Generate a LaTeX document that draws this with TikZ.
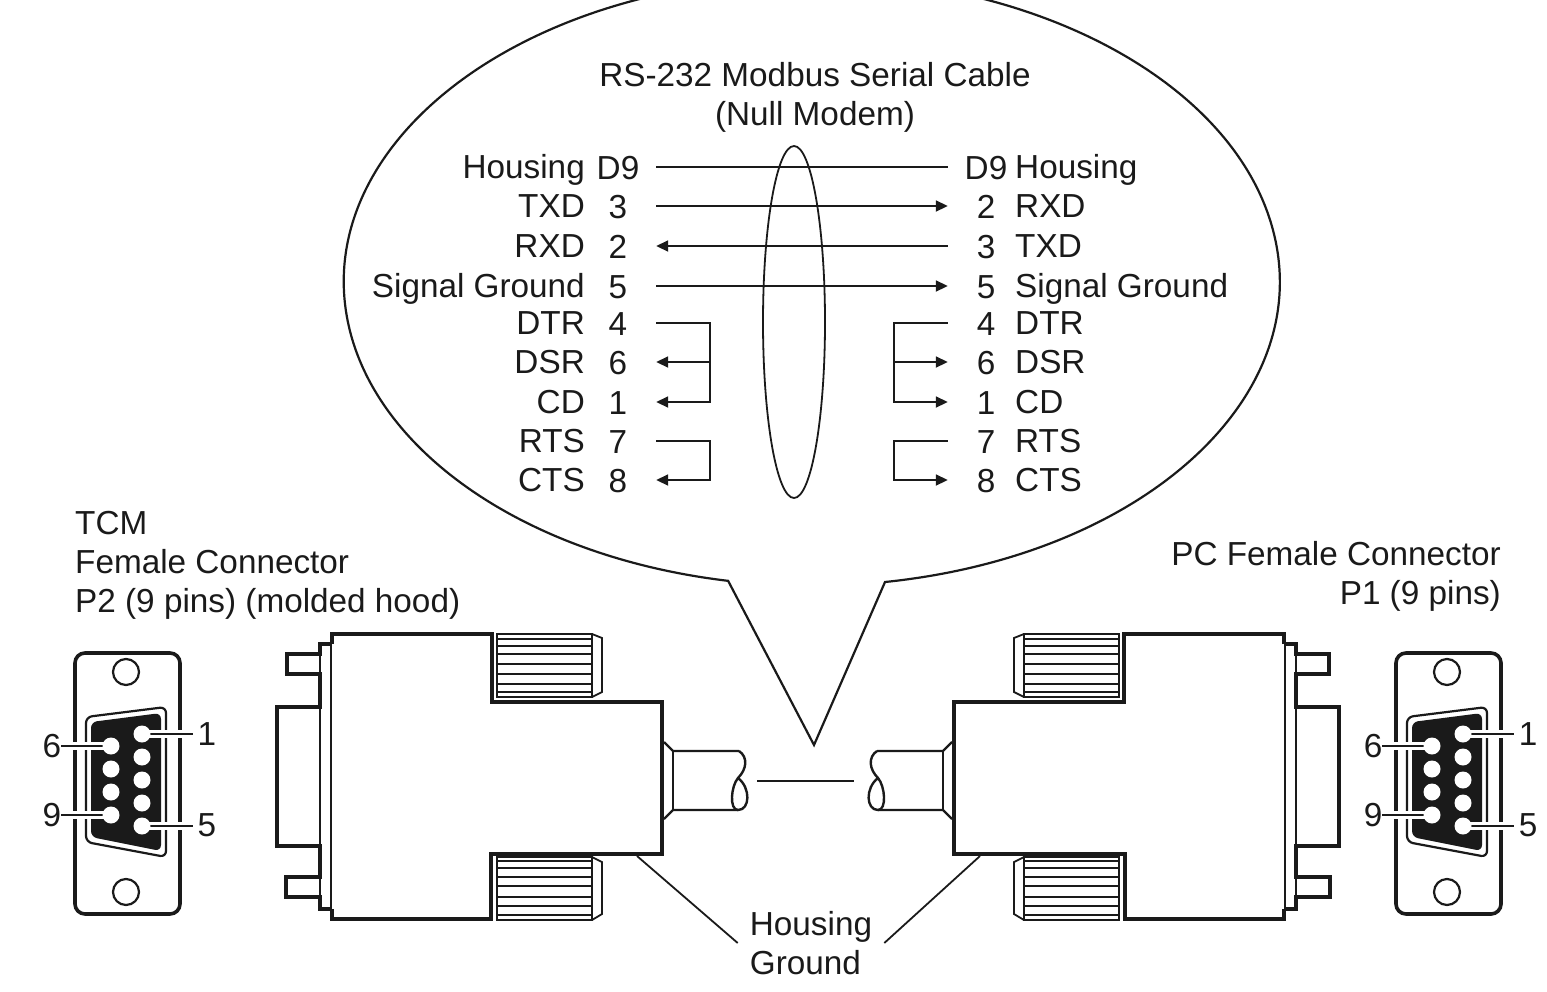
\documentclass[tikz,border=0pt]{standalone}
\usepackage{fontspec}
\setmainfont{Liberation Sans}
\usetikzlibrary{arrows.meta}
\definecolor{ink}{HTML}{1A1A1A}
\tikzset{
  txt/.style={font=\fontsize{33.3}{39}\selectfont,text=ink,inner sep=0pt},
  thinline/.style={draw=ink,line width=1.8pt},
  hoodline/.style={draw=ink,line width=4pt,line join=miter},
  wire/.style={draw=ink,line width=1.8pt},
  wirearrow/.style={wire,-{Triangle[length=12pt,width=11pt]}},
  pinno/.style={txt,minimum width=76pt,text height=24pt,text depth=0pt},
  lead/.style={draw=white,double=ink,line width=3pt,double distance=2.3pt},
  pinhole/.style={circle,fill=white,inner sep=0pt,minimum size=17pt},
  digit/.style={txt,text height=24pt,text depth=0pt},
}

% one hood with its thumb screws and a cut cable
\newcommand{\knurl}[5]{
  \draw[thinline] (497,#1) rectangle (592,#2);
  \draw[thinline] (592,#1) -- (602,#3) -- (602,#4) -- (592,#2);
  \foreach \k in {#5} \draw[thinline] (497,\k) -- (592,\k);
}
\newcommand{\hood}{
  \draw[hoodline] (332,644) -- (332,634) -- (492,634) -- (492,702) -- (662,702) -- (662,854)
    -- (491,854) -- (491,919) -- (332,919) -- (332,909);
  \draw[hoodline] (332,644) -- (320,644) -- (320,654) -- (287,654) -- (287,674) -- (320,674)
    -- (320,707) -- (277,707) -- (277,846) -- (320,846) -- (320,877) -- (286,877)
    -- (286,897) -- (320,897) -- (320,909) -- (332,909);
  \draw[thinline] (331,644) -- (331,909);
  \draw[thinline] (320,654) -- (320,674);
  \draw[thinline] (320,707) -- (320,846);
  \draw[thinline] (320,877) -- (320,897);
  \knurl{634}{697}{638}{692}{639,646,654,664,674,684,692}
  \knurl{857}{920}{862}{914}{861,868,877,886,897,906,915}
  \draw[thinline,line width=2.4pt] (664,742) -- (673,751) -- (739,751);
  \draw[thinline,line width=2.4pt] (664,819) -- (673,810) -- (738,810);
  \draw[thinline,line width=2.4pt] (673,751) -- (673,810);
  \draw[thinline,line width=2.4pt] (739,751) .. controls (748,757) and (747,769) .. (738,778)
    .. controls (731,786) and (729,810) .. (738,810)
    .. controls (750,810) and (751,788) .. (738,778);
}
% one 9 pin face, #1 is its shift and #2 the start of its names
\newcommand{\dsub}[2]{
  \begin{scope}[xshift=#1pt]
    \draw[ink,line width=3.6pt,rounded corners=10pt] (75,653) rectangle (180,914);
    \draw[thinline,line width=2.2pt] (126,672) circle (13);
    \draw[thinline,line width=2.2pt] (126,892) circle (13);
    \draw[thinline,line width=2.2pt,rounded corners=6pt] (86,717) -- (166,707) -- (166,857) -- (86,842) -- cycle;
    \fill[ink,rounded corners=6pt] (91,722) -- (161,713) -- (161,851) -- (91,837) -- cycle;
    \node[digit] (#2n6) at (52,745) {6};
    \node[digit] (#2n9) at (52,814) {9};
    \node[digit,inner xsep=5pt] (#2n1) at (207,733) {1};
    \node[digit,inner xsep=5pt] (#2n5) at (207,824) {5};
    \coordinate (#2p6) at (111,746);
    \coordinate (#2p9) at (111,815);
    \coordinate (#2p1) at (142,734);
    \coordinate (#2p5) at (142,826);
    \foreach \n in {1,5,6,9} \draw[lead] (#2p\n) -- (#2p\n -| #2n\n.\ifnum\n<6 west\else east\fi);
    \foreach \x/\y in {142/734,142/757,142/780,142/803,142/826,111/746,111/769,111/792,111/815}
      \node[pinhole] at (\x,\y) {};
  \end{scope}
}

\begin{document}
\begin{tikzpicture}[x=1pt,y=-1pt]
\useasboundingbox (0,0) rectangle (1547,991);
\clip (0,0) rectangle (1547,991);

% balloon
\draw[thinline,line width=2.2pt,line join=miter] (885,582) arc[start angle=81,end angle=-259.7,x radius=468,y radius=304] -- (814,745) -- cycle;
\node[txt,align=center] (title) at (815,97) {RS-232 Modbus Serial Cable\\(Null Modem)};

% rows of the table
\foreach \i/\y/\a/\b/\c/\d in {
  0/167/Housing/D9/D9/Housing,
  1/206/TXD/3/2/RXD,
  2/246/RXD/2/3/TXD,
  3/286/Signal Ground/5/5/Signal Ground,
  4/323/DTR/4/4/DTR,
  5/362/DSR/6/6/DSR,
  6/402/CD/1/1/CD,
  7/441/RTS/7/7/RTS,
  8/480/CTS/8/8/CTS}{
  \node[pinno] (pl\i) at (618,\y) {\b};
  \node[pinno] (pr\i) at (986,\y) {\c};
  \node[txt,anchor=base east] (nl\i) at (585,\y+11) {\a};
  \node[txt,anchor=base west] (nr\i) at (1015,\y+11) {\d};
}

\draw[wire] (pl0.east) -- (pr0.west);
\draw[wirearrow] (pl1.east) -- (pr1.west);
\draw[wirearrow] (pr2.west) -- (pl2.east);
\draw[wirearrow] (pl3.east) -- (pr3.west);

\coordinate (bl) at (710,0);
\coordinate (br) at (894,0);
\draw[wirearrow] (pl4.east) -- (pl4.east -| bl) -- (pl6.east -| bl) -- (pl6.east);
\draw[wirearrow] (pl5.east -| bl) -- (pl5.east);
\draw[wirearrow] (pl7.east) -- (pl7.east -| bl) -- (pl8.east -| bl) -- (pl8.east);
\draw[wirearrow] (pr4.west) -- (pr4.west -| br) -- (pr6.west -| br) -- (pr6.west);
\draw[wirearrow] (pr5.west -| br) -- (pr5.west);
\draw[wirearrow] (pr7.west) -- (pr7.west -| br) -- (pr8.west -| br) -- (pr8.west);

\draw[thinline] (794,322) ellipse (31 and 176);

% connector names
\node[txt,align=left,anchor=west] (tcm) at (75,565) {TCM\\Female Connector\\P2 (9 pins) (molded hood)};
\node[txt,align=right,anchor=east] (pc) at (1501,576) {PC Female Connector\\P1 (9 pins)};

% faces
\dsub{0}{a}
\dsub{1321}{b}

% hoods
\hood
\begin{scope}[xshift=1616pt,xscale=-1]
\hood
\end{scope}

% cable break and ground
\coordinate (cutl) at (757,781);
\coordinate (cutr) at (854,781);
\draw[thinline] (cutl) -- (cutr);
\node[txt,align=left,inner xsep=12pt] (gnd) at (811,943) {Housing\\Ground};
\coordinate (gl) at (637,856);
\coordinate (gr) at (980,856);
\draw[thinline] (gl) -- (gnd.west);
\draw[thinline] (gr) -- (gnd.east);
\end{tikzpicture}
\end{document}
